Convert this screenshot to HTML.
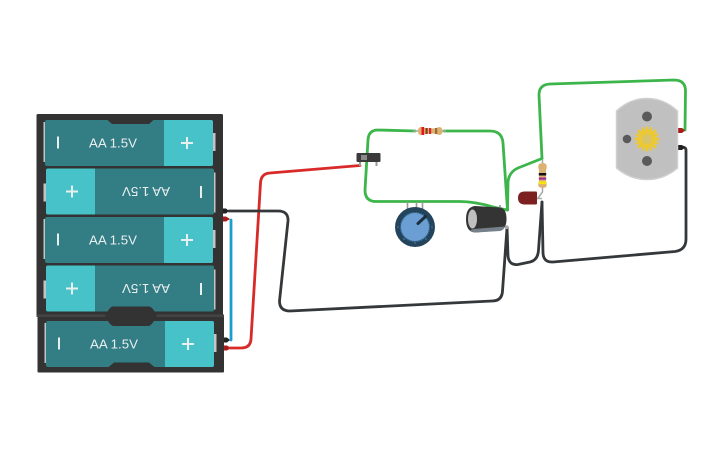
<!DOCTYPE html>
<html><head><meta charset="utf-8"><style>html,body{margin:0;padding:0;background:#fff}svg{display:block}</style></head>
<body>
<svg width="725" height="453" viewBox="0 0 725 453" xmlns="http://www.w3.org/2000/svg" font-family="'Liberation Sans',sans-serif">
<defs>
<g id="cell">
  <rect x="-1.500" y="2" width="3" height="40" fill="#c4c4c4"/>
  <rect x="167" y="13" width="3.500" height="18" fill="#c4c4c4"/>
  <rect x="0" y="0" width="168" height="46" rx="2" fill="#337d85"/>
  <path d="M119 0H166a2 2 0 0 1 2 2V44a2 2 0 0 1-2 2H119Z" fill="#47c2c8"/>
  <rect x="12" y="16.500" width="2" height="12" fill="#e8efef"/>
  <path d="M136 22h12v2h-12ZM141 17h2v12h-2Z" fill="#e8efef"/>
  <text x="44" y="27.500" font-size="12.500" fill="#e8efef" textLength="48" lengthAdjust="spacingAndGlyphs">AA 1.5V</text>
</g>
</defs>

<!-- holders -->
<rect x="36.500" y="114" width="186.500" height="203" rx="1.500" fill="#333"/>
<rect x="37.500" y="316.500" width="186.500" height="56" rx="1" fill="#333"/>
<rect x="36.500" y="314.500" width="187.500" height="2.500" fill="#444"/>

<use href="#cell" x="45" y="120"/>
<use href="#cell" transform="translate(214 214.500) rotate(180)"/>
<use href="#cell" x="45" y="217"/>
<use href="#cell" transform="translate(214 311.500) rotate(180)"/>
<use href="#cell" x="46" y="321"/>

<!-- notches -->
<path d="M107 119.500H154L149 124H112Z" fill="#333"/>
<path d="M113 306.500H149C152 306.500 155 312 157 315C155 319 152 326 148 326H114C110 326 107 319 105 316C107 312 110 306.500 113 306.500Z" fill="#333"/>
<path d="M108 367.500L114 362.500H149L155 367.500Z" fill="#333"/>

<!-- battery terminals -->
<path d="M223 208.500h3l3 2.500-3 2.500h-3Z" fill="#222"/>
<path d="M223 216.500h3l4 2.500-4 2.500h-3Z" fill="#a81c1c"/>
<path d="M224 337.500h3l3 2.500-3 2.500h-3Z" fill="#222"/>
<path d="M224 345.500h3l4 2.500-4 2.500h-3Z" fill="#a81c1c"/>

<!-- wires -->
<g fill="none" stroke-linecap="round" stroke-linejoin="round">
  <path d="M231 220V340" stroke="#1b9dd0" stroke-width="2.800"/>
  <path d="M230 348H241Q250.500 348 251 339L260.500 183Q261 173.500 270 173L360 165.500" stroke="#d92a2a" stroke-width="2.800"/>
  <path d="M229 211H278Q288.500 211 288 221L279.500 301Q279.500 311 290 311L492 301Q502 301 502.500 291L507 228" stroke="#35383a" stroke-width="2.800"/>
  <path d="M507 227L508 256Q509 265.500 518 264.500L530 262Q538 260 538.500 250L542 202" stroke="#35383a" stroke-width="2.800"/>
  <path d="M542 202L543 253Q543.500 262.500 553 262L675 251.500Q686 250 686 239V150Q686 147 681 147" stroke="#35383a" stroke-width="2.800"/>
  <path d="M415 131L378 130Q368.500 130 368 140L365 190Q365 201.500 376 201.500L460 201.500Q475 201.500 493 207L507 210" stroke="#3cb54a" stroke-width="2.800"/>
  <path d="M444 131H490Q502 131 503 143L507.500 210" stroke="#3cb54a" stroke-width="2.800"/>
  <path d="M507.500 210L508 182Q509 172 518 168L542 158.500" stroke="#3cb54a" stroke-width="2.800"/>
  <path d="M542 158.500L539 95Q539 84.500 550 84L674 80Q685.500 80 685.500 91L685 130H682" stroke="#3cb54a" stroke-width="2.800"/>
</g>

<!-- switch -->
<rect x="359" y="161" width="2" height="5" fill="#999"/>
<rect x="375.500" y="161" width="2" height="5" fill="#999"/>
<rect x="356.500" y="153" width="24" height="9" rx="1" fill="#3a3a3a"/>
<rect x="361" y="155" width="6" height="5" fill="#8a8a8a"/>

<!-- resistor 1 -->
<path d="M413 131h6M441 131h5" stroke="#a8a8a8" stroke-width="1.500"/>
<path d="M421 127Q426 128.500 431 128.500Q436 128.500 439 127Q442.500 127 442.500 131Q442.500 135 439 135Q436 133.500 431 133.500Q426 133.500 421 135Q418 135 418 131Q418 127 421 127Z" fill="#dcb272"/>
<rect x="421.500" y="127" width="2.600" height="8" fill="#e8141c"/>
<rect x="425.500" y="128" width="2.200" height="6" fill="#8a3a1a"/>
<rect x="429" y="128" width="2.200" height="6" fill="#d8262a"/>
<rect x="435" y="128" width="2.200" height="6" fill="#9a6a30"/>

<!-- potentiometer -->
<path d="M407.500 202v8M416.500 202v8M422.500 202v8" stroke="#9a9a9a" stroke-width="1.600" fill="none"/>
<circle cx="415" cy="227" r="20" fill="#24445c"/>
<circle cx="415" cy="227" r="15.500" fill="#3a6a92" stroke="#1e3d55" stroke-width="1.500" stroke-dasharray="1.500 1"/>
<circle cx="415" cy="227" r="14" fill="#6b9fd3"/>
<path d="M418 223.500L425.500 216.500" stroke="#1c2f3e" stroke-width="3" stroke-linecap="round"/>
<g fill="#4f7f9f"><circle cx="398" cy="227" r=".8"/><circle cx="432" cy="227" r=".8"/><circle cx="415" cy="243" r=".8"/><circle cx="404" cy="239" r=".8"/><circle cx="426" cy="239" r=".8"/></g>

<!-- capacitor -->
<rect x="499" y="205" width="2" height="4" fill="#aaa"/>
<rect x="505" y="226" width="3" height="3" fill="#aaa"/>
<path d="M475 206L500 207.500Q506.500 208.500 506.500 219Q506.500 229 500 230.500L475 232.500Q466 232 466 219Q466 207 475 206Z" fill="#343434"/>
<path d="M474 229L505 226.500Q504 230 500 231L476 232.500Q472 232.500 470 230Z" fill="#76808a"/>
<ellipse cx="472.500" cy="219" rx="4.500" ry="9.500" fill="#c0c0c0"/>

<!-- resistor 2 + LED -->
<path d="M542.500 160v7M542.500 186v6L538 198" stroke="#a8a8a8" stroke-width="1.500" fill="none"/>
<path d="M539 164Q543 162 546 164Q547.500 167 546 170V181Q547.500 185 546 187Q543 189 539 187Q537.500 185 539 181V170Q537.500 167 539 164Z" fill="#dcb272"/>
<rect x="538.800" y="173" width="7.400" height="2.500" fill="#111"/>
<rect x="538.800" y="177.500" width="7.400" height="2.200" fill="#a02c90"/>
<rect x="538.800" y="181.500" width="7.400" height="2.600" fill="#f7e60a"/>
<path d="M536 198.500H542" stroke="#aaa" stroke-width="1.500"/>
<path d="M524 191.500H536Q537 191.500 537 193V203Q537 204.500 536 204.500H524Q518 204 518 198Q518 192 524 191.500Z" fill="#7d2020"/>

<!-- motor -->
<path d="M678 128H682L685 130.500L682 133H678Z" fill="#a81c1c"/>
<path d="M678 145H682L685 147.500L682 150H678Z" fill="#222"/>
<path d="M616.500 111Q630 98.500 647 98.500Q664 98.500 677.500 111V168Q664 179.500 647 179.500Q630 179.500 616.500 168Z" fill="#c0c0c0" stroke="#cfcfcf" stroke-width="1.500"/>
<circle cx="647" cy="116.500" r="5" fill="#5a5a5a"/>
<circle cx="647" cy="161" r="5" fill="#5a5a5a"/>
<circle cx="627" cy="139" r="4.300" fill="#5a5a5a"/>
<circle cx="647" cy="139" r="9.500" fill="#ecc934"/>
<g stroke="#ecc934" stroke-width="3" stroke-linecap="butt">
  <path d="M647 126.500V151.500M634.500 139H659.500M638.200 130.200L655.800 147.800M655.800 130.200L638.200 147.800"/>
  <path d="M642.200 127.500L651.800 150.500M651.800 127.500L642.200 150.500M635.500 134.200L658.500 143.800M635.500 143.800L658.500 134.200" stroke-width="2"/>
</g>
<circle cx="647" cy="139" r="5" fill="#d8c46a"/>
</svg>
</body></html>
